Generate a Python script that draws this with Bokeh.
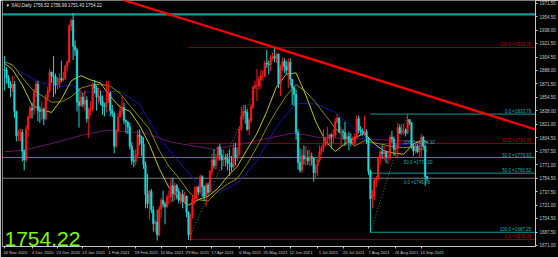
from bokeh.plotting import figure
from bokeh.models import Range1d, LinearAxis, FixedTicker, PrintfTickFormatter, Label, Span, ColumnDataSource
from bokeh.core.properties import value
from bokeh.embed import file_html
from bokeh.resources import INLINE

# ---------------- data (XAU daily) ----------------
opens = [1889,1888,1879,1871,1866,1871,1837,1807,1811,1811,
         1788,1777,1815,1830,1841,1839,1862,1871,1838,1837,
         1840,1828,1854,1863,1886,1881,1880,1870,1871,1878,
         1876,1878,1893,1898,1943,1950,1918,1913,1849,1844,
         1855,1846,1851,1828,1840,1840,1871,1866,1855,1856,
         1850,1844,1843,1848,1860,1838,1834,1794,1813,1830,
         1838,1842,1826,1824,1818,1794,1776,1775,1783,1808,
         1806,1797,1771,1734,1723,1738,1715,1698,1700,1684,
         1716,1727,1722,1719,1731,1731,1745,1735,1745,1738,
         1727,1734,1725,1732,1712,1684,1708,1728,1729,1743,
         1737,1756,1744,1732,1746,1737,1763,1777,1770,1778,
         1793,1783,1777,1780,1778,1773,1772,1768,1792,1779,
         1784,1815,1831,1837,1836,1815,1826,1843,1867,1869,
         1869,1877,1881,1881,1897,1896,1895,1903,1905,1903,
         1908,1871,1891,1899,1893,1888,1898,1877,1866,1858,
         1811,1774,1764,1782,1778,1779,1776,1781,1779,1761,
         1770,1777,1787,1792,1796,1803,1803,1808,1806,1808,
         1824,1829,1812,1812,1811,1803,1806,1802,1798,1799,
         1806,1828,1814,1813,1810,1812,1804,1763,1729,1732,
         1752,1753,1779,1787,1785,1787,1781,1781,1805,1803,
         1790,1792,1817,1810,1814,1814,1810,1827,1823,1794,
         1788,1794,1787,1794,1805,1794,1756.52]
highs = [1906,1892,1882,1875,1881,1875,1838,1815,1816,1815,
         1790,1820,1832,1844,1848,1865,1875,1875,1844,1849,
         1842,1858,1868,1890,1886,1906,1884,1880,1884,1900,
         1886,1895,1900,1945,1952,1959,1925,1916,1866,1864,
         1860,1863,1856,1842,1850,1873,1876,1869,1867,1863,
         1857,1848,1875,1875,1862,1845,1837,1815,1835,1845,
         1855,1848,1827,1825,1823,1799,1789,1790,1814,1815,
         1807,1805,1775,1760,1740,1741,1720,1703,1715,1720,
         1730,1739,1725,1734,1740,1755,1755,1749,1747,1742,
         1737,1740,1737,1733,1713,1710,1733,1744,1745,1745,
         1759,1758,1745,1749,1749,1764,1785,1790,1785,1794,
         1797,1790,1790,1784,1785,1790,1782,1798,1798,1793,
         1818,1843,1845,1845,1840,1829,1846,1869,1875,1890,
         1881,1889,1888,1900,1913,1900,1906,1910,1916,1910,
         1909,1895,1904,1903,1900,1903,1903,1877,1869,1864,
         1815,1791,1790,1795,1794,1789,1790,1786,1780,1772,
         1778,1795,1795,1815,1806,1818,1809,1810,1815,1829,
         1834,1830,1818,1815,1824,1810,1812,1810,1806,1810,
         1832,1832,1819,1816,1832,1815,1805,1765,1740,1754,
         1757,1781,1789,1795,1795,1789,1788,1808,1813,1806,
         1798,1823,1821,1822,1822,1816,1834,1827,1824,1798,
         1799,1797,1796,1809,1807,1796,1756.99]
lows = [1863,1872,1866,1855,1861,1829,1800,1800,1800,1775,
        1764,1774,1805,1828,1828,1833,1855,1825,1823,1826,
        1820,1826,1850,1860,1872,1855,1859,1864,1866,1873,
        1874,1876,1887,1897,1937,1901,1906,1837,1817,1843,
        1842,1838,1823,1804,1832,1837,1859,1838,1847,1845,
        1833,1831,1836,1848,1831,1830,1785,1792,1811,1830,
        1833,1821,1810,1809,1790,1771,1768,1770,1779,1795,
        1782,1766,1717,1717,1703,1711,1688,1687,1677,1682,
        1705,1718,1697,1717,1722,1724,1725,1727,1728,1723,
        1722,1717,1722,1706,1678,1677,1704,1722,1728,1733,
        1735,1731,1726,1719,1734,1737,1759,1766,1765,1776,
        1776,1764,1769,1769,1764,1757,1763,1766,1770,1776,
        1782,1813,1827,1822,1813,1808,1823,1840,1865,1850,
        1864,1865,1875,1879,1891,1883,1887,1900,1898,1897,
        1866,1856,1887,1885,1883,1866,1869,1845,1844,1802,
        1765,1761,1761,1771,1770,1771,1769,1770,1750,1753,
        1757,1774,1784,1787,1794,1795,1795,1791,1797,1804,
        1822,1810,1794,1802,1794,1795,1789,1794,1795,1795,
        1805,1810,1808,1807,1807,1797,1758,1687,1717,1727,
        1743,1752,1771,1778,1776,1773,1772,1777,1798,1782,
        1780,1780,1809,1809,1808,1806,1809,1820,1791,1782,
        1785,1785,1780,1781,1791,1745,1751.43]
closes = [1888,1879,1871,1866,1871,1837,1807,1811,1811,1788,
          1777,1815,1830,1841,1839,1862,1871,1838,1837,1840,
          1828,1854,1863,1886,1881,1880,1870,1871,1878,1876,
          1878,1893,1898,1943,1950,1918,1913,1849,1844,1855,
          1846,1851,1828,1840,1840,1871,1866,1855,1856,1850,
          1844,1843,1848,1860,1838,1834,1794,1813,1830,1838,
          1842,1826,1824,1818,1794,1776,1775,1783,1808,1806,
          1797,1771,1734,1723,1738,1715,1698,1700,1684,1716,
          1727,1722,1719,1731,1731,1745,1735,1745,1738,1727,
          1734,1725,1732,1712,1684,1708,1728,1729,1743,1737,
          1756,1744,1732,1746,1737,1763,1777,1770,1778,1793,
          1783,1777,1780,1778,1773,1772,1768,1792,1779,1784,
          1815,1831,1837,1836,1815,1826,1843,1867,1869,1869,
          1877,1881,1881,1897,1896,1895,1903,1905,1903,1908,
          1871,1891,1899,1893,1888,1898,1877,1866,1858,1811,
          1774,1764,1782,1778,1779,1776,1781,1779,1761,1770,
          1777,1787,1792,1796,1803,1803,1808,1806,1808,1824,
          1829,1812,1812,1811,1803,1806,1802,1798,1799,1806,
          1828,1814,1813,1810,1812,1804,1763,1729,1732,1752,
          1753,1779,1787,1785,1787,1781,1781,1805,1803,1790,
          1792,1817,1810,1814,1814,1810,1827,1823,1794,1788,
          1794,1787,1794,1805,1794,1756.5,1754.22]

# moving averages (sampled along the bars)
ma_yellow_idx = [0,4,9,14,19,24,29,34,39,44,49,54,59,64,69,74,79,84,89,94,99,104,109,114,119,124,129,134,139,144,149,154,159,164,169,174,179,184,189,194,199,204,209,214,216]
ma_yellow_val = [1896.5,1889.0,1870.0,1844.9,1839.0,1835.8,1851.9,1874.9,1881.4,1876.1,1872.2,1855.8,1842.3,1837.2,1819.7,1796.2,1766.4,1742.7,1729.8,1721.0,1727.6,1731.9,1741.4,1756.6,1769.1,1790.1,1809.7,1836.8,1867.7,1883.1,1884.9,1857.2,1824.8,1800.5,1787.4,1796.9,1804.1,1810.2,1796.8,1788.0,1785.4,1783.9,1797.0,1801.2,1798.6]
ma_olive_idx = [0,4,9,14,24,29,34,39,44,49,54,59,64,69,74,79,84,89,94,99,104,109,114,119,124,129,134,139,144,149,154,159,164,169,174,179,184,189,194,199,204,209,214,216]
ma_olive_val = [1898.3,1894.9,1879.2,1864.5,1848.6,1848.9,1855.1,1865.9,1869.4,1871.0,1868.4,1859.5,1844.3,1829.9,1815.2,1789.0,1768.9,1754.9,1737.7,1727.6,1726.0,1738.3,1747.0,1753.8,1772.0,1793.0,1816.9,1838.0,1856.4,1870.2,1861.6,1848.1,1832.2,1816.7,1804.2,1794.2,1800.9,1798.0,1795.8,1792.9,1792.2,1793.2,1789.8,1787.9]
ma_blue_idx = [0,9,19,29,35,39,49,59,69,79,89,99,109,119,129,139,149,159,169,179,189,199,209,216]
ma_blue_val = [1900,1885,1872,1868,1870,1860.2,1862.0,1861.8,1846.0,1804.3,1774.8,1747.0,1735.6,1748.4,1775.6,1818.4,1847.3,1846.3,1836.2,1814.5,1792.1,1794.8,1796.9,1792.1]
ma_purple_idx = [0,10,27,40,53,72,85,107,122,135,147,154,160,170,185,200,216]
ma_purple_val = [1787,1789,1799,1808,1814,1810,1799,1790,1797,1804,1810,1808,1805,1804,1803,1801,1799]

# x axis dates (bar index of each label)
date_labels = ["16 Nov 2020","4 Dec 2020","23 Dec 2020","13 Jan 2021","1 Feb 2021","19 Feb 2021",
               "10 Mar 2021","29 Mar 2021","17 Apr 2021","6 May 2021","25 May 2021","12 Jun 2021",
               "1 Jul 2021","20 Jul 2021","7 Aug 2021","26 Aug 2021","14 Sep 2021"]
date_idx = [0,14,27,40,53,67,80,93,106,120,133,146,160,173,186,200,213]
price_ticks = [1671.0,1687.5,1704.5,1721.0,1737.5,1754.5,1771.0,1787.5,1804.5,1821.0,
               1838.0,1854.5,1871.5,1888.0,1904.5,1921.5,1938.0,1954.5,1971.5]

# drawn objects
top_level = 1957.30
current_price = 1754.22
trend_x = [-70, 300]
trend_y = [2075.0, 1792.8]
fibo1_x = [94, 138]
fibo1_y = [1678.36, 1916.36]
fibo1_levels = [1916.36, 1797.36, 1678.36]
fibo1_names = ["100.0", "50.0", "0.0"]
fibo2_x = [187, 206]
fibo2_y = [1687.25, 1833.79]
fibo2_levels = [1833.79, 1760.52, 1687.25]
fibo2_names = ["0.0", "50.0", "100.0"]
fibo3_level = 1779.93
small_levels = [1794.92, 1770.20, 1745.48]
small_names = ["100.0", "50.0", "0.0"]
small_idx = 204

# ---------------- styling ----------------
BULL = "#ff1a1a"
BEAR = "#1fd6d6"
TEAL = "#129a9a"
DRED = "#8b0000"
AXC = "#c8c8c8"
SMALL = "4.5px"
FONT = "Liberation Sans"
X0, X1 = -1.1, 271.4
Y0, Y1 = 1669.6, 1974.6

p = figure(width=558, height=257, x_range=Range1d(X0, X1), y_range=Range1d(Y0, Y1),
           output_backend="svg", toolbar_location=None,
           x_axis_location=None, y_axis_location=None,
           min_border_left=2, min_border_right=0, min_border_top=0, min_border_bottom=0,
           background_fill_color="black", border_fill_color="black", outline_line_color=None)
p.xgrid.visible = False
p.ygrid.visible = False

# horizontal objects
p.segment(x0=[X0], y0=[top_level], x1=[X1], y1=[top_level], line_color=TEAL, line_width=2.2)
p.segment(x0=[fibo1_x[0]] * 3, y0=fibo1_levels, x1=[X1] * 3, y1=fibo1_levels, line_color=DRED, line_width=1)
p.segment(x0=[fibo2_x[0]] * 3, y0=fibo2_levels, x1=[X1] * 3, y1=fibo2_levels, line_color=TEAL, line_width=1)
p.segment(x0=[X0], y0=[fibo3_level], x1=[X1], y1=[fibo3_level], line_color=TEAL, line_width=1)
p.segment(x0=[X0], y0=[current_price], x1=[X1], y1=[current_price], line_color="#7a7a7a", line_width=1)
p.line(fibo1_x, fibo1_y, line_color="#2e8b57", line_dash="1 2", line_width=1)
p.line(fibo2_x, fibo2_y, line_color="#2e8b57", line_dash="1 2", line_width=1)

# moving averages
p.line(ma_purple_idx, ma_purple_val, line_color="#6a1466", line_width=1)
p.line(ma_blue_idx, ma_blue_val, line_color="#1414a8", line_width=1)
p.line(ma_olive_idx, ma_olive_val, line_color="#8a8a0a", line_width=1)
p.line(ma_yellow_idx, ma_yellow_val, line_color="#c4c414", line_width=1)

# candles
idx = list(range(len(closes)))
up = [i for i in idx if closes[i] >= opens[i]]
dn = [i for i in idx if closes[i] < opens[i]]
for sel, col in ((up, BULL), (dn, BEAR)):
    src = ColumnDataSource(dict(
        x=sel,
        h=[highs[i] for i in sel], l=[lows[i] for i in sel],
        top=[max(opens[i], closes[i]) for i in sel],
        bot=[min(opens[i], closes[i]) for i in sel]))
    p.segment(x0="x", y0="h", x1="x", y1="l", source=src, line_color=col, line_width=1)
    p.vbar(x="x", width=0.75, top="top", bottom="bot", source=src,
           fill_color=col, line_color=col, line_width=0.6)

p.line(trend_x, trend_y, line_color="#ff0000", line_width=2.2)

# left frame line
p.add_layout(Span(location=X0, dimension="height", line_color=AXC, line_width=1))

# axes
yaxis = LinearAxis(ticker=FixedTicker(ticks=price_ticks), formatter=PrintfTickFormatter(format="%.2f"),
                   axis_line_color=AXC, major_tick_line_color=AXC, minor_tick_line_color=None,
                   major_tick_out=2, major_tick_in=0, major_label_standoff=2,
                   major_label_text_color=AXC, major_label_text_font_size=SMALL,
                   major_label_text_font=FONT)
p.add_layout(yaxis, "right")

LABEL_SHIFT = 5.5
xaxis = LinearAxis(ticker=FixedTicker(ticks=[d + LABEL_SHIFT for d in date_idx], minor_ticks=date_idx),
                   major_label_overrides={d + LABEL_SHIFT: t for d, t in zip(date_idx, date_labels)},
                   axis_line_color=AXC, major_tick_line_color=None, minor_tick_line_color=AXC,
                   major_tick_out=0, major_tick_in=0, minor_tick_out=2, minor_tick_in=0,
                   major_label_standoff=1, major_label_text_color=AXC,
                   major_label_text_font_size="4.2px", major_label_text_font=FONT)
p.add_layout(xaxis, "below")

# level labels
for lv, nm in zip(fibo1_levels, fibo1_names):
    p.add_layout(Label(x=X1, y=lv, x_offset=-3, text=f"{nm}  ={lv:.2f}", text_align="right",
                       text_baseline="bottom", text_color="#b01010", text_font_size=SMALL,
                       text_font=FONT))
for lv, nm in zip(fibo2_levels, fibo2_names):
    p.add_layout(Label(x=X1, y=lv, x_offset=-3, text=f"{nm}  ={lv:.2f}", text_align="right",
                       text_baseline="bottom", text_color="#20b0b0", text_font_size=SMALL,
                       text_font=FONT))
p.add_layout(Label(x=X1, y=fibo3_level, x_offset=-3, text=f"50.0  ={fibo3_level:.2f}", text_align="right",
                   text_baseline="bottom", text_color="#20b0b0", text_font_size=SMALL, text_font=FONT))
for lv, nm in zip(small_levels, small_names):
    p.add_layout(Label(x=small_idx, y=lv, text=f"{nm}  ={lv:.2f}", text_align="left",
                       text_baseline="bottom", text_color="#20b0b0", text_font_size=SMALL,
                       text_font=FONT))

# price boxes on the axis
p.add_layout(Label(x=X1, y=top_level, x_offset=1, text=f"{top_level:.2f}", text_baseline="middle",
                   background_fill_color="#00e8e8", text_color="black", text_font_size=SMALL,
                   text_font=FONT))
p.add_layout(Label(x=X1, y=current_price, x_offset=1, text=f"{current_price:.2f}", text_baseline="middle",
                   background_fill_color="#e8e8e8", text_color="black", text_font_size=SMALL,
                   text_font=FONT))

# header and big price
p.add_layout(Label(x=X0, y=Y1, x_offset=3, y_offset=-7,
                   text=f"\u25bc XAU,Daily  {opens[-1]:.2f} {highs[-1]:.2f} {lows[-1]:.2f} {closes[-1]:.2f}",
                   text_color="#e0e0e0", text_font_size=SMALL, text_font=FONT))
p.add_layout(Label(x=X0, y=Y0, x_offset=2, y_offset=8, text=f"{closes[-1]:.2f}",
                   text_color="#7cfc00", text_font_size="21px", text_font=FONT,
                   text_baseline="alphabetic"))

open("out.html", "w").write(file_html(p, INLINE))
